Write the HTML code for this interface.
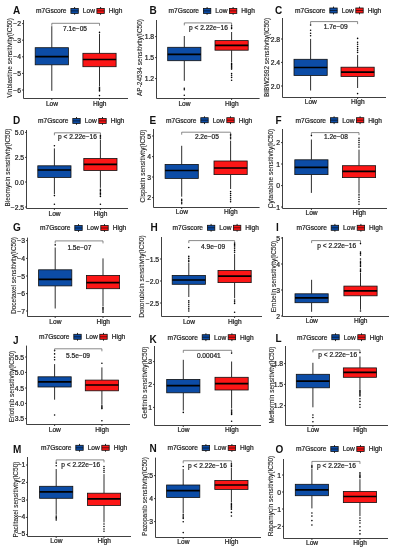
<!DOCTYPE html>
<html><head><meta charset="utf-8"><title>Drug sensitivity boxplots</title><style>
html,body{margin:0;padding:0;background:#fff;}
svg{display:block;}
text{font-family:"Liberation Sans",Arial,sans-serif;fill:#000;}
.lt{font-size:10px;font-weight:bold;fill:#111;}
.lg{font-size:6.6px;fill:#222;stroke:#222;stroke-width:0.22;}
.tk{font-size:6.8px;text-anchor:end;fill:#222;stroke:#222;stroke-width:0.22;}
.yl{font-size:6.5px;text-anchor:middle;fill:#222;stroke:#222;stroke-width:0.1;}
.xl{font-size:6.6px;text-anchor:middle;fill:#222;stroke:#222;stroke-width:0.22;}
.pv{font-size:6.6px;text-anchor:middle;fill:#222;stroke:#222;stroke-width:0.22;}
.ax{stroke:#2a2a2a;stroke-width:0.9;fill:none;}
.wk{stroke:#161616;stroke-width:0.9;}
.bx{stroke:#111;stroke-width:0.8;}
.md{stroke:#000;stroke-width:1.7;}
.mdk{stroke:#000;stroke-width:0.6;}
.pt{fill:#000;}
.br{stroke:#4a4a4a;stroke-width:0.65;fill:none;}
</style></head>
<body><svg width="393" height="550" viewBox="0 0 393 550">
<rect width="393" height="550" fill="#fff"/>
<g transform="translate(0,0)">
<text x="13" y="14" class="lt">A</text>
<text x="36.1" y="13.3" class="lg">m7Gscore</text>
<line x1="74.6" y1="7" x2="74.6" y2="14.8" class="wk"/>
<rect x="70.9" y="8.4" width="7.4" height="5" fill="#0C4CA6" class="bx"/>
<line x1="70.9" y1="10.9" x2="78.3" y2="10.9" class="mdk"/>
<text x="82.8" y="13.3" class="lg">Low</text>
<line x1="100.6" y1="7" x2="100.6" y2="14.8" class="wk"/>
<rect x="96.9" y="8.4" width="7.4" height="5" fill="#FC1616" class="bx"/>
<line x1="96.9" y1="10.9" x2="104.3" y2="10.9" class="mdk"/>
<text x="108.8" y="13.3" class="lg">High</text>
<path d="M23.5 20V98.5H128" class="ax"/>
<line x1="22" y1="23.6" x2="23.5" y2="23.6" class="ax"/>
<text x="21.1" y="26.2" class="tk">−2</text>
<line x1="22" y1="40.2" x2="23.5" y2="40.2" class="ax"/>
<text x="21.1" y="42.8" class="tk">−3</text>
<line x1="22" y1="56.8" x2="23.5" y2="56.8" class="ax"/>
<text x="21.1" y="59.4" class="tk">−4</text>
<line x1="22" y1="73.4" x2="23.5" y2="73.4" class="ax"/>
<text x="21.1" y="76" class="tk">−5</text>
<line x1="22" y1="90" x2="23.5" y2="90" class="ax"/>
<text x="21.1" y="92.6" class="tk">−6</text>
<text transform="translate(11.7,58) rotate(-90)" class="yl">Vinblastine sensitivity(IC50)</text>
<line x1="51.8" y1="26.2" x2="51.8" y2="47.7" class="wk"/>
<line x1="51.8" y1="64.8" x2="51.8" y2="90.8" class="wk"/>
<rect x="35.2" y="47.7" width="33.2" height="17.1" fill="#0C4CA6" class="bx"/>
<line x1="35.2" y1="56.7" x2="68.4" y2="56.7" class="md"/>
<line x1="51.8" y1="98.5" x2="51.8" y2="100" class="ax"/>
<line x1="99.5" y1="33.8" x2="99.5" y2="53.3" class="wk"/>
<line x1="99.5" y1="66.7" x2="99.5" y2="86.2" class="wk"/>
<rect x="82.9" y="53.3" width="33.2" height="13.4" fill="#FC1616" class="bx"/>
<line x1="82.9" y1="59.5" x2="116.1" y2="59.5" class="md"/>
<circle cx="99.5" cy="32.4" r="0.78" class="pt"/>
<circle cx="99.5" cy="87.2" r="0.78" class="pt"/>
<circle cx="99.5" cy="88.2" r="0.78" class="pt"/>
<circle cx="99.5" cy="89.2" r="0.78" class="pt"/>
<circle cx="99.5" cy="90.2" r="0.78" class="pt"/>
<circle cx="99.5" cy="91" r="0.78" class="pt"/>
<circle cx="99.5" cy="95.6" r="0.78" class="pt"/>
<line x1="99.5" y1="98.5" x2="99.5" y2="100" class="ax"/>
<text x="52" y="106" class="xl">Low</text>
<text x="99.7" y="106" class="xl">High</text>
<path d="M51.8 25.8V23.3H99.5V25.8" class="br"/>
<text x="75" y="30.8" class="pv">7.1e−05</text>
</g>
<g transform="translate(131,0)">
<text x="18.4" y="14" class="lt">B</text>
<text x="37.6" y="13.3" class="lg">m7Gscore</text>
<line x1="76.1" y1="7" x2="76.1" y2="14.8" class="wk"/>
<rect x="72.4" y="8.4" width="7.4" height="5" fill="#0C4CA6" class="bx"/>
<line x1="72.4" y1="10.9" x2="79.8" y2="10.9" class="mdk"/>
<text x="84.3" y="13.3" class="lg">Low</text>
<line x1="102.1" y1="7" x2="102.1" y2="14.8" class="wk"/>
<rect x="98.4" y="8.4" width="7.4" height="5" fill="#FC1616" class="bx"/>
<line x1="98.4" y1="10.9" x2="105.8" y2="10.9" class="mdk"/>
<text x="110.3" y="13.3" class="lg">High</text>
<path d="M25.5 20V98.5H128.6" class="ax"/>
<line x1="24" y1="36.6" x2="25.5" y2="36.6" class="ax"/>
<text x="23.1" y="39.2" class="tk">1.8</text>
<line x1="24" y1="57.6" x2="25.5" y2="57.6" class="ax"/>
<text x="23.1" y="60.2" class="tk">1.5</text>
<line x1="24" y1="78.6" x2="25.5" y2="78.6" class="ax"/>
<text x="23.1" y="81.2" class="tk">1.2</text>
<text transform="translate(11.4,57.5) rotate(-90)" class="yl">AP-24534 sensitivity(IC50)</text>
<line x1="53.3" y1="36" x2="53.3" y2="47.3" class="wk"/>
<line x1="53.3" y1="60.7" x2="53.3" y2="80.8" class="wk"/>
<rect x="36.7" y="47.3" width="33.2" height="13.4" fill="#0C4CA6" class="bx"/>
<line x1="36.7" y1="54.3" x2="69.9" y2="54.3" class="md"/>
<circle cx="53.3" cy="88.3" r="0.78" class="pt"/>
<circle cx="53.3" cy="89.8" r="0.78" class="pt"/>
<circle cx="53.3" cy="95.2" r="0.78" class="pt"/>
<line x1="53.3" y1="98.5" x2="53.3" y2="100" class="ax"/>
<line x1="100.6" y1="32" x2="100.6" y2="40.6" class="wk"/>
<line x1="100.6" y1="50.2" x2="100.6" y2="62.5" class="wk"/>
<rect x="84" y="40.6" width="33.2" height="9.6" fill="#FC1616" class="bx"/>
<line x1="84" y1="45.4" x2="117.2" y2="45.4" class="md"/>
<circle cx="100.6" cy="25.8" r="0.78" class="pt"/>
<circle cx="100.6" cy="27.2" r="0.78" class="pt"/>
<circle cx="100.6" cy="28.6" r="0.78" class="pt"/>
<circle cx="100.6" cy="63.5" r="0.78" class="pt"/>
<circle cx="100.6" cy="64.6" r="0.78" class="pt"/>
<circle cx="100.6" cy="65.7" r="0.78" class="pt"/>
<circle cx="100.6" cy="66.8" r="0.78" class="pt"/>
<circle cx="100.6" cy="67.9" r="0.78" class="pt"/>
<circle cx="100.6" cy="69.1" r="0.78" class="pt"/>
<circle cx="100.6" cy="73.6" r="0.78" class="pt"/>
<circle cx="100.6" cy="75.2" r="0.78" class="pt"/>
<circle cx="100.6" cy="77.4" r="0.78" class="pt"/>
<circle cx="100.6" cy="80.3" r="0.78" class="pt"/>
<line x1="100.6" y1="98.5" x2="100.6" y2="100" class="ax"/>
<text x="53.5" y="106" class="xl">Low</text>
<text x="100.8" y="106" class="xl">High</text>
<path d="M53.3 25.4V22.9H100.6V25.4" class="br"/>
<text x="77.45" y="29.8" class="pv">p &lt; 2.22e−16</text>
</g>
<g transform="translate(262,0)">
<text x="13" y="14.4" class="lt">C</text>
<text x="33" y="12.9" class="lg">m7Gscore</text>
<line x1="71.5" y1="6.6" x2="71.5" y2="14.4" class="wk"/>
<rect x="67.8" y="8" width="7.4" height="5" fill="#0C4CA6" class="bx"/>
<line x1="67.8" y1="10.5" x2="75.2" y2="10.5" class="mdk"/>
<text x="79.7" y="12.9" class="lg">Low</text>
<line x1="97.5" y1="6.6" x2="97.5" y2="14.4" class="wk"/>
<rect x="93.8" y="8" width="7.4" height="5" fill="#FC1616" class="bx"/>
<line x1="93.8" y1="10.5" x2="101.2" y2="10.5" class="mdk"/>
<text x="105.7" y="12.9" class="lg">High</text>
<path d="M20.5 18V97.5H124" class="ax"/>
<line x1="19" y1="39" x2="20.5" y2="39" class="ax"/>
<text x="18.1" y="41.6" class="tk">2.8</text>
<line x1="19" y1="62.4" x2="20.5" y2="62.4" class="ax"/>
<text x="18.1" y="65" class="tk">2.4</text>
<line x1="19" y1="86" x2="20.5" y2="86" class="ax"/>
<text x="18.1" y="88.6" class="tk">2.0</text>
<text transform="translate(7,57.5) rotate(-90)" class="yl">BIBW2992 sensitivity(IC50)</text>
<line x1="48.6" y1="38.9" x2="48.6" y2="59.3" class="wk"/>
<line x1="48.6" y1="75.5" x2="48.6" y2="90.5" class="wk"/>
<rect x="32" y="59.3" width="33.2" height="16.2" fill="#0C4CA6" class="bx"/>
<line x1="32" y1="67.5" x2="65.2" y2="67.5" class="md"/>
<circle cx="48.6" cy="25" r="0.78" class="pt"/>
<circle cx="48.6" cy="30.2" r="0.78" class="pt"/>
<circle cx="48.6" cy="33.3" r="0.78" class="pt"/>
<circle cx="48.6" cy="35.8" r="0.78" class="pt"/>
<line x1="48.6" y1="97.5" x2="48.6" y2="99" class="ax"/>
<line x1="95.6" y1="54.9" x2="95.6" y2="67.2" class="wk"/>
<line x1="95.6" y1="76.5" x2="95.6" y2="88" class="wk"/>
<rect x="79" y="67.2" width="33.2" height="9.3" fill="#FC1616" class="bx"/>
<line x1="79" y1="72.2" x2="112.2" y2="72.2" class="md"/>
<circle cx="95.6" cy="38.4" r="0.78" class="pt"/>
<circle cx="95.6" cy="42.2" r="0.78" class="pt"/>
<circle cx="95.6" cy="44.2" r="0.78" class="pt"/>
<circle cx="95.6" cy="46.5" r="0.78" class="pt"/>
<circle cx="95.6" cy="48.5" r="0.78" class="pt"/>
<circle cx="95.6" cy="50.3" r="0.78" class="pt"/>
<circle cx="95.6" cy="52.4" r="0.78" class="pt"/>
<circle cx="95.6" cy="93.6" r="0.78" class="pt"/>
<line x1="95.6" y1="97.5" x2="95.6" y2="99" class="ax"/>
<text x="48.8" y="104.4" class="xl">Low</text>
<text x="95.8" y="104.4" class="xl">High</text>
<path d="M48.6 24.1V21.6H95.6V24.1" class="br"/>
<text x="73.7" y="28.7" class="pv">1.7e−09</text>
</g>
<g transform="translate(0,110)">
<text x="13" y="14" class="lt">D</text>
<text x="38" y="13.3" class="lg">m7Gscore</text>
<line x1="76.5" y1="7" x2="76.5" y2="14.8" class="wk"/>
<rect x="72.8" y="8.4" width="7.4" height="5" fill="#0C4CA6" class="bx"/>
<line x1="72.8" y1="10.9" x2="80.2" y2="10.9" class="mdk"/>
<text x="84.7" y="13.3" class="lg">Low</text>
<line x1="102.5" y1="7" x2="102.5" y2="14.8" class="wk"/>
<rect x="98.8" y="8.4" width="7.4" height="5" fill="#FC1616" class="bx"/>
<line x1="98.8" y1="10.9" x2="106.2" y2="10.9" class="mdk"/>
<text x="110.7" y="13.3" class="lg">High</text>
<path d="M26.5 20V98.5H128" class="ax"/>
<line x1="25" y1="22.4" x2="26.5" y2="22.4" class="ax"/>
<text x="24.1" y="25" class="tk">5.0</text>
<line x1="25" y1="47.4" x2="26.5" y2="47.4" class="ax"/>
<text x="24.1" y="50" class="tk">2.5</text>
<line x1="25" y1="72" x2="26.5" y2="72" class="ax"/>
<text x="24.1" y="74.6" class="tk">0.0</text>
<line x1="25" y1="97" x2="26.5" y2="97" class="ax"/>
<text x="24.1" y="99.6" class="tk">−2.5</text>
<text transform="translate(10.1,57.5) rotate(-90)" class="yl">Bleomycin sensitivity(IC50)</text>
<line x1="54.4" y1="38.4" x2="54.4" y2="55.8" class="wk"/>
<line x1="54.4" y1="67.5" x2="54.4" y2="84.2" class="wk"/>
<rect x="37.8" y="55.8" width="33.2" height="11.7" fill="#0C4CA6" class="bx"/>
<line x1="37.8" y1="60" x2="71" y2="60" class="md"/>
<circle cx="54.4" cy="35.8" r="0.78" class="pt"/>
<circle cx="54.4" cy="85.6" r="0.78" class="pt"/>
<circle cx="54.4" cy="94.3" r="0.78" class="pt"/>
<line x1="54.4" y1="98.5" x2="54.4" y2="100" class="ax"/>
<line x1="100.4" y1="29.5" x2="100.4" y2="48.5" class="wk"/>
<line x1="100.4" y1="60.5" x2="100.4" y2="77.8" class="wk"/>
<rect x="83.8" y="48.5" width="33.2" height="12" fill="#FC1616" class="bx"/>
<line x1="83.8" y1="54.4" x2="117" y2="54.4" class="md"/>
<circle cx="100.4" cy="25.6" r="0.78" class="pt"/>
<circle cx="100.4" cy="26.9" r="0.78" class="pt"/>
<circle cx="100.4" cy="28.2" r="0.78" class="pt"/>
<circle cx="100.4" cy="79.2" r="0.78" class="pt"/>
<circle cx="100.4" cy="80.6" r="0.78" class="pt"/>
<circle cx="100.4" cy="82" r="0.78" class="pt"/>
<circle cx="100.4" cy="83.4" r="0.78" class="pt"/>
<circle cx="100.4" cy="84.8" r="0.78" class="pt"/>
<circle cx="100.4" cy="86.4" r="0.78" class="pt"/>
<circle cx="100.4" cy="94.3" r="0.78" class="pt"/>
<line x1="100.4" y1="98.5" x2="100.4" y2="100" class="ax"/>
<text x="54.6" y="105.5" class="xl">Low</text>
<text x="100.6" y="105.5" class="xl">High</text>
<path d="M54.4 25.3V22.8H100.4V25.3" class="br"/>
<text x="77.5" y="29" class="pv">p &lt; 2.22e−16</text>
</g>
<g transform="translate(131,110)">
<text x="18.4" y="13.6" class="lt">E</text>
<text x="35" y="12.6" class="lg">m7Gscore</text>
<line x1="73.5" y1="6.3" x2="73.5" y2="14.1" class="wk"/>
<rect x="69.8" y="7.7" width="7.4" height="5" fill="#0C4CA6" class="bx"/>
<line x1="69.8" y1="10.2" x2="77.2" y2="10.2" class="mdk"/>
<text x="81.7" y="12.6" class="lg">Low</text>
<line x1="99.5" y1="6.3" x2="99.5" y2="14.1" class="wk"/>
<rect x="95.8" y="7.7" width="7.4" height="5" fill="#FC1616" class="bx"/>
<line x1="95.8" y1="10.2" x2="103.2" y2="10.2" class="mdk"/>
<text x="107.7" y="12.6" class="lg">High</text>
<path d="M22.5 19V97.5H128.6" class="ax"/>
<line x1="21" y1="26" x2="22.5" y2="26" class="ax"/>
<text x="20.1" y="28.6" class="tk">5</text>
<line x1="21" y1="46.6" x2="22.5" y2="46.6" class="ax"/>
<text x="20.1" y="49.2" class="tk">4</text>
<line x1="21" y1="67" x2="22.5" y2="67" class="ax"/>
<text x="20.1" y="69.6" class="tk">3</text>
<line x1="21" y1="87.6" x2="22.5" y2="87.6" class="ax"/>
<text x="20.1" y="90.2" class="tk">2</text>
<text transform="translate(13.7,56) rotate(-90)" class="yl">Cisplatin sensitivity(IC50)</text>
<line x1="50.7" y1="35.8" x2="50.7" y2="54.4" class="wk"/>
<line x1="50.7" y1="68.4" x2="50.7" y2="86.7" class="wk"/>
<rect x="34.1" y="54.4" width="33.2" height="14" fill="#0C4CA6" class="bx"/>
<line x1="34.1" y1="60.5" x2="67.3" y2="60.5" class="md"/>
<circle cx="50.7" cy="89.2" r="0.78" class="pt"/>
<circle cx="50.7" cy="90.6" r="0.78" class="pt"/>
<circle cx="50.7" cy="92.2" r="0.78" class="pt"/>
<circle cx="50.7" cy="93.8" r="0.78" class="pt"/>
<line x1="50.7" y1="97.5" x2="50.7" y2="99" class="ax"/>
<line x1="99.6" y1="30.7" x2="99.6" y2="51" class="wk"/>
<line x1="99.6" y1="64.6" x2="99.6" y2="79" class="wk"/>
<rect x="83" y="51" width="33.2" height="13.6" fill="#FC1616" class="bx"/>
<line x1="83" y1="58" x2="116.2" y2="58" class="md"/>
<circle cx="99.6" cy="24.4" r="0.78" class="pt"/>
<circle cx="99.6" cy="25.8" r="0.78" class="pt"/>
<circle cx="99.6" cy="27.2" r="0.78" class="pt"/>
<circle cx="99.6" cy="28.8" r="0.78" class="pt"/>
<circle cx="99.6" cy="81.6" r="0.78" class="pt"/>
<circle cx="99.6" cy="83.6" r="0.78" class="pt"/>
<circle cx="99.6" cy="85.6" r="0.78" class="pt"/>
<circle cx="99.6" cy="87.8" r="0.78" class="pt"/>
<circle cx="99.6" cy="89.8" r="0.78" class="pt"/>
<circle cx="99.6" cy="91.8" r="0.78" class="pt"/>
<line x1="99.6" y1="97.5" x2="99.6" y2="99" class="ax"/>
<text x="50.9" y="104.4" class="xl">Low</text>
<text x="99.8" y="104.4" class="xl">High</text>
<path d="M50.7 24.7V22.2H99.6V24.7" class="br"/>
<text x="75.9" y="28.7" class="pv">2.2e−05</text>
</g>
<g transform="translate(262,110)">
<text x="13.6" y="13.6" class="lt">F</text>
<text x="33.6" y="12.6" class="lg">m7Gscore</text>
<line x1="72.1" y1="6.3" x2="72.1" y2="14.1" class="wk"/>
<rect x="68.4" y="7.7" width="7.4" height="5" fill="#0C4CA6" class="bx"/>
<line x1="68.4" y1="10.2" x2="75.8" y2="10.2" class="mdk"/>
<text x="80.3" y="12.6" class="lg">Low</text>
<line x1="98.1" y1="6.3" x2="98.1" y2="14.1" class="wk"/>
<rect x="94.4" y="7.7" width="7.4" height="5" fill="#FC1616" class="bx"/>
<line x1="94.4" y1="10.2" x2="101.8" y2="10.2" class="mdk"/>
<text x="106.3" y="12.6" class="lg">High</text>
<path d="M20.5 19V98.5H125" class="ax"/>
<line x1="19" y1="32.6" x2="20.5" y2="32.6" class="ax"/>
<text x="18.1" y="35.2" class="tk">2</text>
<line x1="19" y1="54" x2="20.5" y2="54" class="ax"/>
<text x="18.1" y="56.6" class="tk">1</text>
<line x1="19" y1="75.6" x2="20.5" y2="75.6" class="ax"/>
<text x="18.1" y="78.2" class="tk">0</text>
<line x1="19" y1="97" x2="20.5" y2="97" class="ax"/>
<text x="18.1" y="99.6" class="tk">−1</text>
<text transform="translate(10.6,58.5) rotate(-90)" class="yl">Cytarabine sensitivity(IC50)</text>
<line x1="49.4" y1="29.5" x2="49.4" y2="49.8" class="wk"/>
<line x1="49.4" y1="64.6" x2="49.4" y2="82.9" class="wk"/>
<rect x="32.8" y="49.8" width="33.2" height="14.8" fill="#0C4CA6" class="bx"/>
<line x1="32.8" y1="57.4" x2="66" y2="57.4" class="md"/>
<circle cx="49.4" cy="25.6" r="0.78" class="pt"/>
<line x1="49.4" y1="98.5" x2="49.4" y2="100" class="ax"/>
<line x1="97" y1="39.6" x2="97" y2="55.7" class="wk"/>
<line x1="97" y1="67.6" x2="97" y2="83.6" class="wk"/>
<rect x="80.4" y="55.7" width="33.2" height="11.9" fill="#FC1616" class="bx"/>
<line x1="80.4" y1="61.3" x2="113.6" y2="61.3" class="md"/>
<circle cx="97" cy="28.2" r="0.78" class="pt"/>
<circle cx="97" cy="30.4" r="0.78" class="pt"/>
<circle cx="97" cy="32.6" r="0.78" class="pt"/>
<circle cx="97" cy="34.8" r="0.78" class="pt"/>
<circle cx="97" cy="37.1" r="0.78" class="pt"/>
<circle cx="97" cy="84.9" r="0.78" class="pt"/>
<circle cx="97" cy="87.2" r="0.78" class="pt"/>
<circle cx="97" cy="89.5" r="0.78" class="pt"/>
<circle cx="97" cy="91.8" r="0.78" class="pt"/>
<circle cx="97" cy="94.3" r="0.78" class="pt"/>
<line x1="97" y1="98.5" x2="97" y2="100" class="ax"/>
<text x="49.6" y="105" class="xl">Low</text>
<text x="97.2" y="105" class="xl">High</text>
<path d="M49.4 25.1V22.6H97V25.1" class="br"/>
<text x="73.95" y="29.3" class="pv">1.2e−08</text>
</g>
<g transform="translate(0,220)">
<text x="13" y="11" class="lt">G</text>
<text x="40" y="10.4" class="lg">m7Gscore</text>
<line x1="78.5" y1="4.1" x2="78.5" y2="11.9" class="wk"/>
<rect x="74.8" y="5.5" width="7.4" height="5" fill="#0C4CA6" class="bx"/>
<line x1="74.8" y1="8" x2="82.2" y2="8" class="mdk"/>
<text x="86.7" y="10.4" class="lg">Low</text>
<line x1="104.5" y1="4.1" x2="104.5" y2="11.9" class="wk"/>
<rect x="100.8" y="5.5" width="7.4" height="5" fill="#FC1616" class="bx"/>
<line x1="100.8" y1="8" x2="108.2" y2="8" class="mdk"/>
<text x="112.7" y="10.4" class="lg">High</text>
<path d="M27.5 17.6V96.5H131" class="ax"/>
<line x1="26" y1="20.6" x2="27.5" y2="20.6" class="ax"/>
<text x="25.1" y="23.2" class="tk">−3</text>
<line x1="26" y1="38.4" x2="27.5" y2="38.4" class="ax"/>
<text x="25.1" y="41" class="tk">−4</text>
<line x1="26" y1="56" x2="27.5" y2="56" class="ax"/>
<text x="25.1" y="58.6" class="tk">−5</text>
<line x1="26" y1="73.6" x2="27.5" y2="73.6" class="ax"/>
<text x="25.1" y="76.2" class="tk">−6</text>
<line x1="26" y1="91" x2="27.5" y2="91" class="ax"/>
<text x="25.1" y="93.6" class="tk">−7</text>
<text transform="translate(16.1,55.5) rotate(-90)" class="yl">Docetaxel sensitivity(IC50)</text>
<line x1="55.2" y1="27.5" x2="55.2" y2="49.8" class="wk"/>
<line x1="55.2" y1="65.9" x2="55.2" y2="88.5" class="wk"/>
<rect x="38.6" y="49.8" width="33.2" height="16.1" fill="#0C4CA6" class="bx"/>
<line x1="38.6" y1="59.3" x2="71.8" y2="59.3" class="md"/>
<circle cx="55.2" cy="24.9" r="0.78" class="pt"/>
<line x1="55.2" y1="96.5" x2="55.2" y2="98" class="ax"/>
<line x1="103" y1="38.4" x2="103" y2="55.4" class="wk"/>
<line x1="103" y1="68.7" x2="103" y2="86" class="wk"/>
<rect x="86.4" y="55.4" width="33.2" height="13.3" fill="#FC1616" class="bx"/>
<line x1="86.4" y1="62.6" x2="119.6" y2="62.6" class="md"/>
<circle cx="103" cy="87.4" r="0.78" class="pt"/>
<circle cx="103" cy="88.6" r="0.78" class="pt"/>
<circle cx="103" cy="89.8" r="0.78" class="pt"/>
<circle cx="103" cy="91" r="0.78" class="pt"/>
<circle cx="103" cy="92.3" r="0.78" class="pt"/>
<line x1="103" y1="96.5" x2="103" y2="98" class="ax"/>
<text x="55.4" y="103.6" class="xl">Low</text>
<text x="103.2" y="103.6" class="xl">High</text>
<path d="M55.2 23.4V20.9H103V23.4" class="br"/>
<text x="79.4" y="30" class="pv">1.5e−07</text>
</g>
<g transform="translate(131,220)">
<text x="19.5" y="11" class="lt">H</text>
<text x="41.6" y="10.2" class="lg">m7Gscore</text>
<line x1="80.1" y1="3.9" x2="80.1" y2="11.7" class="wk"/>
<rect x="76.4" y="5.3" width="7.4" height="5" fill="#0C4CA6" class="bx"/>
<line x1="76.4" y1="7.8" x2="83.8" y2="7.8" class="mdk"/>
<text x="88.3" y="10.2" class="lg">Low</text>
<line x1="106.1" y1="3.9" x2="106.1" y2="11.7" class="wk"/>
<rect x="102.4" y="5.3" width="7.4" height="5" fill="#FC1616" class="bx"/>
<line x1="102.4" y1="7.8" x2="109.8" y2="7.8" class="mdk"/>
<text x="114.3" y="10.2" class="lg">High</text>
<path d="M30.5 17V96.5H131" class="ax"/>
<line x1="29" y1="39" x2="30.5" y2="39" class="ax"/>
<text x="28.1" y="41.6" class="tk">−1.5</text>
<line x1="29" y1="61" x2="30.5" y2="61" class="ax"/>
<text x="28.1" y="63.6" class="tk">−2.0</text>
<line x1="29" y1="83" x2="30.5" y2="83" class="ax"/>
<text x="28.1" y="85.6" class="tk">−2.5</text>
<text transform="translate(12.7,56.5) rotate(-90)" class="yl">Doxorubicin sensitivity(IC50)</text>
<line x1="57.8" y1="42.7" x2="57.8" y2="55.4" class="wk"/>
<line x1="57.8" y1="64.3" x2="57.8" y2="77" class="wk"/>
<rect x="41.2" y="55.4" width="33.2" height="8.9" fill="#0C4CA6" class="bx"/>
<line x1="41.2" y1="60" x2="74.4" y2="60" class="md"/>
<circle cx="57.8" cy="27.5" r="0.78" class="pt"/>
<circle cx="57.8" cy="36.4" r="0.78" class="pt"/>
<circle cx="57.8" cy="38.4" r="0.78" class="pt"/>
<circle cx="57.8" cy="40.2" r="0.78" class="pt"/>
<circle cx="57.8" cy="41.5" r="0.78" class="pt"/>
<circle cx="57.8" cy="80.9" r="0.78" class="pt"/>
<circle cx="57.8" cy="82.7" r="0.78" class="pt"/>
<circle cx="57.8" cy="84.7" r="0.78" class="pt"/>
<circle cx="57.8" cy="86.7" r="0.78" class="pt"/>
<circle cx="57.8" cy="88.9" r="0.78" class="pt"/>
<circle cx="57.8" cy="91" r="0.78" class="pt"/>
<line x1="57.8" y1="96.5" x2="57.8" y2="98" class="ax"/>
<line x1="103.6" y1="33.8" x2="103.6" y2="50.4" class="wk"/>
<line x1="103.6" y1="62.6" x2="103.6" y2="78.3" class="wk"/>
<rect x="87" y="50.4" width="33.2" height="12.2" fill="#FC1616" class="bx"/>
<line x1="87" y1="56.2" x2="120.2" y2="56.2" class="md"/>
<circle cx="103.6" cy="23.1" r="0.78" class="pt"/>
<circle cx="103.6" cy="24.4" r="0.78" class="pt"/>
<circle cx="103.6" cy="25.7" r="0.78" class="pt"/>
<circle cx="103.6" cy="27" r="0.78" class="pt"/>
<circle cx="103.6" cy="28.7" r="0.78" class="pt"/>
<circle cx="103.6" cy="30.5" r="0.78" class="pt"/>
<circle cx="103.6" cy="32.3" r="0.78" class="pt"/>
<circle cx="103.6" cy="80.1" r="0.78" class="pt"/>
<circle cx="103.6" cy="81.7" r="0.78" class="pt"/>
<circle cx="103.6" cy="83.4" r="0.78" class="pt"/>
<circle cx="103.6" cy="92.3" r="0.78" class="pt"/>
<line x1="103.6" y1="96.5" x2="103.6" y2="98" class="ax"/>
<text x="58" y="103.6" class="xl">Low</text>
<text x="103.8" y="103.6" class="xl">High</text>
<path d="M57.8 23.1V20.6H103.6V23.1" class="br"/>
<text x="82.05" y="28.8" class="pv">4.9e−09</text>
</g>
<g transform="translate(262,220)">
<text x="14" y="10.9" class="lt">I</text>
<text x="34.4" y="10.2" class="lg">m7Gscore</text>
<line x1="72.9" y1="3.9" x2="72.9" y2="11.7" class="wk"/>
<rect x="69.2" y="5.3" width="7.4" height="5" fill="#0C4CA6" class="bx"/>
<line x1="69.2" y1="7.8" x2="76.6" y2="7.8" class="mdk"/>
<text x="81.1" y="10.2" class="lg">Low</text>
<line x1="98.9" y1="3.9" x2="98.9" y2="11.7" class="wk"/>
<rect x="95.2" y="5.3" width="7.4" height="5" fill="#FC1616" class="bx"/>
<line x1="95.2" y1="7.8" x2="102.6" y2="7.8" class="mdk"/>
<text x="107.1" y="10.2" class="lg">High</text>
<path d="M20.5 17V96.5H127" class="ax"/>
<line x1="19" y1="18" x2="20.5" y2="18" class="ax"/>
<text x="18.1" y="20.6" class="tk">5</text>
<line x1="19" y1="44" x2="20.5" y2="44" class="ax"/>
<text x="18.1" y="46.6" class="tk">4</text>
<line x1="19" y1="70" x2="20.5" y2="70" class="ax"/>
<text x="18.1" y="72.6" class="tk">3</text>
<line x1="19" y1="96" x2="20.5" y2="96" class="ax"/>
<text x="18.1" y="98.6" class="tk">2</text>
<text transform="translate(13.6,56.5) rotate(-90)" class="yl">Embelin sensitivity(IC50)</text>
<line x1="49.6" y1="59.8" x2="49.6" y2="73.8" class="wk"/>
<line x1="49.6" y1="82.7" x2="49.6" y2="91.8" class="wk"/>
<rect x="33" y="73.8" width="33.2" height="8.9" fill="#0C4CA6" class="bx"/>
<line x1="33" y1="77.9" x2="66.2" y2="77.9" class="md"/>
<line x1="49.6" y1="96.5" x2="49.6" y2="98" class="ax"/>
<line x1="98.5" y1="52.6" x2="98.5" y2="66.1" class="wk"/>
<line x1="98.5" y1="75.8" x2="98.5" y2="89.8" class="wk"/>
<rect x="81.9" y="66.1" width="33.2" height="9.7" fill="#FC1616" class="bx"/>
<line x1="81.9" y1="70.8" x2="115.1" y2="70.8" class="md"/>
<circle cx="98.5" cy="23.6" r="0.78" class="pt"/>
<circle cx="98.5" cy="32.1" r="0.78" class="pt"/>
<circle cx="98.5" cy="33.4" r="0.78" class="pt"/>
<circle cx="98.5" cy="35.1" r="0.78" class="pt"/>
<circle cx="98.5" cy="39" r="0.78" class="pt"/>
<circle cx="98.5" cy="41.3" r="0.78" class="pt"/>
<circle cx="98.5" cy="42.6" r="0.78" class="pt"/>
<circle cx="98.5" cy="43.9" r="0.78" class="pt"/>
<circle cx="98.5" cy="45.2" r="0.78" class="pt"/>
<circle cx="98.5" cy="46.5" r="0.78" class="pt"/>
<circle cx="98.5" cy="49.1" r="0.78" class="pt"/>
<circle cx="98.5" cy="50.2" r="0.78" class="pt"/>
<circle cx="98.5" cy="51.4" r="0.78" class="pt"/>
<circle cx="98.5" cy="91" r="0.78" class="pt"/>
<line x1="98.5" y1="96.5" x2="98.5" y2="98" class="ax"/>
<text x="49.8" y="103.4" class="xl">Low</text>
<text x="98.7" y="103.4" class="xl">High</text>
<path d="M49.6 23.1V20.6H98.5V23.1" class="br"/>
<text x="74.75" y="27.8" class="pv">p &lt; 2.22e−16</text>
</g>
<g transform="translate(0,330)">
<text x="13" y="13.6" class="lt">J</text>
<text x="39" y="9.2" class="lg">m7Gscore</text>
<line x1="77.5" y1="2.9" x2="77.5" y2="10.7" class="wk"/>
<rect x="73.8" y="4.3" width="7.4" height="5" fill="#0C4CA6" class="bx"/>
<line x1="73.8" y1="6.8" x2="81.2" y2="6.8" class="mdk"/>
<text x="85.7" y="9.2" class="lg">Low</text>
<line x1="103.5" y1="2.9" x2="103.5" y2="10.7" class="wk"/>
<rect x="99.8" y="4.3" width="7.4" height="5" fill="#FC1616" class="bx"/>
<line x1="99.8" y1="6.8" x2="107.2" y2="6.8" class="mdk"/>
<text x="111.7" y="9.2" class="lg">High</text>
<path d="M26.5 15.6V94.5H130" class="ax"/>
<line x1="25" y1="27" x2="26.5" y2="27" class="ax"/>
<text x="24.1" y="29.6" class="tk">5.5</text>
<line x1="25" y1="42.4" x2="26.5" y2="42.4" class="ax"/>
<text x="24.1" y="45" class="tk">5.0</text>
<line x1="25" y1="58" x2="26.5" y2="58" class="ax"/>
<text x="24.1" y="60.6" class="tk">4.5</text>
<line x1="25" y1="73.4" x2="26.5" y2="73.4" class="ax"/>
<text x="24.1" y="76" class="tk">4.0</text>
<line x1="25" y1="88.6" x2="26.5" y2="88.6" class="ax"/>
<text x="24.1" y="91.2" class="tk">3.5</text>
<text transform="translate(13.9,56.5) rotate(-90)" class="yl">Erlotinib sensitivity(IC50)</text>
<line x1="54.6" y1="34.1" x2="54.6" y2="46.8" class="wk"/>
<line x1="54.6" y1="57" x2="54.6" y2="69.7" class="wk"/>
<rect x="38" y="46.8" width="33.2" height="10.2" fill="#0C4CA6" class="bx"/>
<line x1="38" y1="51.9" x2="71.2" y2="51.9" class="md"/>
<circle cx="54.6" cy="20.6" r="0.78" class="pt"/>
<circle cx="54.6" cy="23.9" r="0.78" class="pt"/>
<circle cx="54.6" cy="27.2" r="0.78" class="pt"/>
<circle cx="54.6" cy="29.8" r="0.78" class="pt"/>
<circle cx="54.6" cy="85" r="0.78" class="pt"/>
<line x1="54.6" y1="94.5" x2="54.6" y2="96" class="ax"/>
<line x1="101.9" y1="37.4" x2="101.9" y2="50.1" class="wk"/>
<line x1="101.9" y1="60.8" x2="101.9" y2="74.8" class="wk"/>
<rect x="85.3" y="50.1" width="33.2" height="10.7" fill="#FC1616" class="bx"/>
<line x1="85.3" y1="55" x2="118.5" y2="55" class="md"/>
<circle cx="101.9" cy="33.3" r="0.78" class="pt"/>
<circle cx="101.9" cy="75.8" r="0.78" class="pt"/>
<circle cx="101.9" cy="76.8" r="0.78" class="pt"/>
<circle cx="101.9" cy="77.8" r="0.78" class="pt"/>
<circle cx="101.9" cy="78.6" r="0.78" class="pt"/>
<circle cx="101.9" cy="90.8" r="0.78" class="pt"/>
<line x1="101.9" y1="94.5" x2="101.9" y2="96" class="ax"/>
<text x="54.8" y="101.6" class="xl">Low</text>
<text x="102.1" y="101.6" class="xl">High</text>
<path d="M54.6 21.3V18.8H101.9V21.3" class="br"/>
<text x="78" y="27.8" class="pv">5.5e−09</text>
</g>
<g transform="translate(131,330)">
<text x="18.4" y="13" class="lt">K</text>
<text x="36.4" y="9.6" class="lg">m7Gscore</text>
<line x1="74.9" y1="3.3" x2="74.9" y2="11.1" class="wk"/>
<rect x="71.2" y="4.7" width="7.4" height="5" fill="#0C4CA6" class="bx"/>
<line x1="71.2" y1="7.2" x2="78.6" y2="7.2" class="mdk"/>
<text x="83.1" y="9.6" class="lg">Low</text>
<line x1="100.9" y1="3.3" x2="100.9" y2="11.1" class="wk"/>
<rect x="97.2" y="4.7" width="7.4" height="5" fill="#FC1616" class="bx"/>
<line x1="97.2" y1="7.2" x2="104.6" y2="7.2" class="mdk"/>
<text x="109.1" y="9.6" class="lg">High</text>
<path d="M23.5 16V95.5H130" class="ax"/>
<line x1="22" y1="31.6" x2="23.5" y2="31.6" class="ax"/>
<text x="21.1" y="34.2" class="tk">3</text>
<line x1="22" y1="54.4" x2="23.5" y2="54.4" class="ax"/>
<text x="21.1" y="57" class="tk">2</text>
<line x1="22" y1="77.4" x2="23.5" y2="77.4" class="ax"/>
<text x="21.1" y="80" class="tk">1</text>
<text transform="translate(15.8,52.5) rotate(-90)" class="yl">Gefitinib sensitivity(IC50)</text>
<line x1="52.3" y1="29.8" x2="52.3" y2="49.4" class="wk"/>
<line x1="52.3" y1="62.8" x2="52.3" y2="80.6" class="wk"/>
<rect x="35.7" y="49.4" width="33.2" height="13.4" fill="#0C4CA6" class="bx"/>
<line x1="35.7" y1="55.7" x2="68.9" y2="55.7" class="md"/>
<circle cx="52.3" cy="82.4" r="0.78" class="pt"/>
<line x1="52.3" y1="95.5" x2="52.3" y2="97" class="ax"/>
<line x1="100.6" y1="31.5" x2="100.6" y2="47.3" class="wk"/>
<line x1="100.6" y1="60" x2="100.6" y2="78.6" class="wk"/>
<rect x="84" y="47.3" width="33.2" height="12.7" fill="#FC1616" class="bx"/>
<line x1="84" y1="53.7" x2="117.2" y2="53.7" class="md"/>
<circle cx="100.6" cy="23.1" r="0.78" class="pt"/>
<circle cx="100.6" cy="80" r="0.78" class="pt"/>
<circle cx="100.6" cy="81.1" r="0.78" class="pt"/>
<circle cx="100.6" cy="82.2" r="0.78" class="pt"/>
<circle cx="100.6" cy="83.3" r="0.78" class="pt"/>
<circle cx="100.6" cy="84.4" r="0.78" class="pt"/>
<circle cx="100.6" cy="91.3" r="0.78" class="pt"/>
<line x1="100.6" y1="95.5" x2="100.6" y2="97" class="ax"/>
<text x="52.5" y="102" class="xl">Low</text>
<text x="100.8" y="102" class="xl">High</text>
<path d="M52.3 22.8V20.3H100.6V22.8" class="br"/>
<text x="77.8" y="27.8" class="pv">0.00041</text>
</g>
<g transform="translate(262,330)">
<text x="13.6" y="12.4" class="lt">L</text>
<text x="35" y="9.6" class="lg">m7Gscore</text>
<line x1="73.5" y1="3.3" x2="73.5" y2="11.1" class="wk"/>
<rect x="69.8" y="4.7" width="7.4" height="5" fill="#0C4CA6" class="bx"/>
<line x1="69.8" y1="7.2" x2="77.2" y2="7.2" class="mdk"/>
<text x="81.7" y="9.6" class="lg">Low</text>
<line x1="99.5" y1="3.3" x2="99.5" y2="11.1" class="wk"/>
<rect x="95.8" y="4.7" width="7.4" height="5" fill="#FC1616" class="bx"/>
<line x1="95.8" y1="7.2" x2="103.2" y2="7.2" class="mdk"/>
<text x="107.7" y="9.6" class="lg">High</text>
<path d="M23.5 16V95.5H126" class="ax"/>
<line x1="22" y1="33.6" x2="23.5" y2="33.6" class="ax"/>
<text x="21.1" y="36.2" class="tk">1.8</text>
<line x1="22" y1="54.4" x2="23.5" y2="54.4" class="ax"/>
<text x="21.1" y="57" class="tk">1.5</text>
<line x1="22" y1="75.6" x2="23.5" y2="75.6" class="ax"/>
<text x="21.1" y="78.2" class="tk">1.2</text>
<text transform="translate(11.5,55) rotate(-90)" class="yl">Metformin sensitivity(IC50)</text>
<line x1="50.9" y1="32.8" x2="50.9" y2="44.3" class="wk"/>
<line x1="50.9" y1="57.8" x2="50.9" y2="77.3" class="wk"/>
<rect x="34.3" y="44.3" width="33.2" height="13.5" fill="#0C4CA6" class="bx"/>
<line x1="34.3" y1="51.2" x2="67.5" y2="51.2" class="md"/>
<circle cx="50.9" cy="85" r="0.78" class="pt"/>
<circle cx="50.9" cy="87.5" r="0.78" class="pt"/>
<circle cx="50.9" cy="91.8" r="0.78" class="pt"/>
<line x1="50.9" y1="95.5" x2="50.9" y2="97" class="ax"/>
<line x1="97.95" y1="26.5" x2="97.95" y2="37.9" class="wk"/>
<line x1="97.95" y1="47.3" x2="97.95" y2="59.5" class="wk"/>
<rect x="81.35" y="37.9" width="33.2" height="9.4" fill="#FC1616" class="bx"/>
<line x1="81.35" y1="42.4" x2="114.55" y2="42.4" class="md"/>
<circle cx="97.95" cy="22.6" r="0.78" class="pt"/>
<circle cx="97.95" cy="60.4" r="0.78" class="pt"/>
<circle cx="97.95" cy="61.5" r="0.78" class="pt"/>
<circle cx="97.95" cy="62.6" r="0.78" class="pt"/>
<circle cx="97.95" cy="63.7" r="0.78" class="pt"/>
<circle cx="97.95" cy="64.8" r="0.78" class="pt"/>
<circle cx="97.95" cy="65.9" r="0.78" class="pt"/>
<circle cx="97.95" cy="68.8" r="0.78" class="pt"/>
<circle cx="97.95" cy="71.4" r="0.78" class="pt"/>
<circle cx="97.95" cy="74.6" r="0.78" class="pt"/>
<circle cx="97.95" cy="77.3" r="0.78" class="pt"/>
<line x1="97.95" y1="95.5" x2="97.95" y2="97" class="ax"/>
<text x="51.1" y="102" class="xl">Low</text>
<text x="98.15" y="102" class="xl">High</text>
<path d="M50.9 22.4V19.9H97.95V22.4" class="br"/>
<text x="75.7" y="26.8" class="pv">p &lt; 2.22e−16</text>
</g>
<g transform="translate(0,440)">
<text x="13" y="13" class="lt">M</text>
<text x="41" y="10.2" class="lg">m7Gscore</text>
<line x1="79.5" y1="3.9" x2="79.5" y2="11.7" class="wk"/>
<rect x="75.8" y="5.3" width="7.4" height="5" fill="#0C4CA6" class="bx"/>
<line x1="75.8" y1="7.8" x2="83.2" y2="7.8" class="mdk"/>
<text x="87.7" y="10.2" class="lg">Low</text>
<line x1="105.5" y1="3.9" x2="105.5" y2="11.7" class="wk"/>
<rect x="101.8" y="5.3" width="7.4" height="5" fill="#FC1616" class="bx"/>
<line x1="101.8" y1="7.8" x2="109.2" y2="7.8" class="mdk"/>
<text x="113.7" y="10.2" class="lg">High</text>
<path d="M27.5 17V96.5H131" class="ax"/>
<line x1="26" y1="25" x2="27.5" y2="25" class="ax"/>
<text x="25.4" y="26.8" class="tk">−1</text>
<line x1="26" y1="42.4" x2="27.5" y2="42.4" class="ax"/>
<text x="25.4" y="44.2" class="tk">−2</text>
<line x1="26" y1="60" x2="27.5" y2="60" class="ax"/>
<text x="25.4" y="61.8" class="tk">−3</text>
<line x1="26" y1="77.4" x2="27.5" y2="77.4" class="ax"/>
<text x="25.4" y="79.2" class="tk">−4</text>
<line x1="26" y1="94.6" x2="27.5" y2="94.6" class="ax"/>
<text x="25.4" y="96.4" class="tk">−5</text>
<text transform="translate(17.7,59.5) rotate(-90)" class="yl">Paclitaxel sensitivity(IC50)</text>
<line x1="56.2" y1="29" x2="56.2" y2="46.3" class="wk"/>
<line x1="56.2" y1="58.3" x2="56.2" y2="74.8" class="wk"/>
<rect x="39.6" y="46.3" width="33.2" height="12" fill="#0C4CA6" class="bx"/>
<line x1="39.6" y1="51.9" x2="72.8" y2="51.9" class="md"/>
<circle cx="56.2" cy="23.1" r="0.78" class="pt"/>
<circle cx="56.2" cy="25.7" r="0.78" class="pt"/>
<circle cx="56.2" cy="76.1" r="0.78" class="pt"/>
<circle cx="56.2" cy="77.4" r="0.78" class="pt"/>
<circle cx="56.2" cy="78.7" r="0.78" class="pt"/>
<circle cx="56.2" cy="80" r="0.78" class="pt"/>
<line x1="56.2" y1="96.5" x2="56.2" y2="98" class="ax"/>
<line x1="104" y1="34.1" x2="104" y2="53.2" class="wk"/>
<line x1="104" y1="65.4" x2="104" y2="82.4" class="wk"/>
<rect x="87.4" y="53.2" width="33.2" height="12.2" fill="#FC1616" class="bx"/>
<line x1="87.4" y1="58.8" x2="120.6" y2="58.8" class="md"/>
<circle cx="104" cy="26.5" r="0.78" class="pt"/>
<circle cx="104" cy="28.5" r="0.78" class="pt"/>
<circle cx="104" cy="30.5" r="0.78" class="pt"/>
<circle cx="104" cy="32.3" r="0.78" class="pt"/>
<circle cx="104" cy="84" r="0.78" class="pt"/>
<circle cx="104" cy="86.5" r="0.78" class="pt"/>
<circle cx="104" cy="89" r="0.78" class="pt"/>
<circle cx="104" cy="91.3" r="0.78" class="pt"/>
<line x1="104" y1="96.5" x2="104" y2="98" class="ax"/>
<text x="56.4" y="103" class="xl">Low</text>
<text x="104.2" y="103" class="xl">High</text>
<path d="M56.2 22.4V19.9H104V22.4" class="br"/>
<text x="80.7" y="26.8" class="pv">p &lt; 2.22e−16</text>
</g>
<g transform="translate(131,440)">
<text x="18.4" y="12.4" class="lt">N</text>
<text x="36.4" y="10.4" class="lg">m7Gscore</text>
<line x1="74.9" y1="4.1" x2="74.9" y2="11.9" class="wk"/>
<rect x="71.2" y="5.5" width="7.4" height="5" fill="#0C4CA6" class="bx"/>
<line x1="71.2" y1="8" x2="78.6" y2="8" class="mdk"/>
<text x="83.1" y="10.4" class="lg">Low</text>
<line x1="100.9" y1="4.1" x2="100.9" y2="11.9" class="wk"/>
<rect x="97.2" y="5.5" width="7.4" height="5" fill="#FC1616" class="bx"/>
<line x1="97.2" y1="8" x2="104.6" y2="8" class="mdk"/>
<text x="109.1" y="10.4" class="lg">High</text>
<path d="M24.5 17.6V97.5H130" class="ax"/>
<line x1="23" y1="35.6" x2="24.5" y2="35.6" class="ax"/>
<text x="22.1" y="38.2" class="tk">5</text>
<line x1="23" y1="58.6" x2="24.5" y2="58.6" class="ax"/>
<text x="22.1" y="61.2" class="tk">4</text>
<line x1="23" y1="81.6" x2="24.5" y2="81.6" class="ax"/>
<text x="22.1" y="84.2" class="tk">3</text>
<text transform="translate(16,56.5) rotate(-90)" class="yl">Pazopanib sensitivity(IC50)</text>
<line x1="52.2" y1="29" x2="52.2" y2="45" class="wk"/>
<line x1="52.2" y1="57.5" x2="52.2" y2="73.5" class="wk"/>
<rect x="35.6" y="45" width="33.2" height="12.5" fill="#0C4CA6" class="bx"/>
<line x1="35.6" y1="50.6" x2="68.8" y2="50.6" class="md"/>
<circle cx="52.2" cy="26.5" r="0.78" class="pt"/>
<circle cx="52.2" cy="74.8" r="0.78" class="pt"/>
<circle cx="52.2" cy="76" r="0.78" class="pt"/>
<circle cx="52.2" cy="77.2" r="0.78" class="pt"/>
<circle cx="52.2" cy="78.5" r="0.78" class="pt"/>
<circle cx="52.2" cy="81.7" r="0.78" class="pt"/>
<circle cx="52.2" cy="92.6" r="0.78" class="pt"/>
<line x1="52.2" y1="97.5" x2="52.2" y2="99" class="ax"/>
<line x1="100.4" y1="27.7" x2="100.4" y2="40.4" class="wk"/>
<line x1="100.4" y1="49.4" x2="100.4" y2="62" class="wk"/>
<rect x="83.8" y="40.4" width="33.2" height="9" fill="#FC1616" class="bx"/>
<line x1="83.8" y1="45" x2="117" y2="45" class="md"/>
<circle cx="100.4" cy="23.9" r="0.78" class="pt"/>
<circle cx="100.4" cy="25.2" r="0.78" class="pt"/>
<circle cx="100.4" cy="26.5" r="0.78" class="pt"/>
<circle cx="100.4" cy="63.3" r="0.78" class="pt"/>
<circle cx="100.4" cy="64.5" r="0.78" class="pt"/>
<circle cx="100.4" cy="65.7" r="0.78" class="pt"/>
<circle cx="100.4" cy="66.9" r="0.78" class="pt"/>
<circle cx="100.4" cy="68.1" r="0.78" class="pt"/>
<circle cx="100.4" cy="69.3" r="0.78" class="pt"/>
<circle cx="100.4" cy="72.4" r="0.78" class="pt"/>
<circle cx="100.4" cy="76" r="0.78" class="pt"/>
<line x1="100.4" y1="97.5" x2="100.4" y2="99" class="ax"/>
<text x="52.4" y="104.4" class="xl">Low</text>
<text x="100.6" y="104.4" class="xl">High</text>
<path d="M52.2 23.3V20.8H100.4V23.3" class="br"/>
<text x="76.5" y="27.8" class="pv">p &lt; 2.22e−16</text>
</g>
<g transform="translate(262,440)">
<text x="13.6" y="13" class="lt">O</text>
<text x="34" y="11.4" class="lg">m7Gscore</text>
<line x1="72.5" y1="5.1" x2="72.5" y2="12.9" class="wk"/>
<rect x="68.8" y="6.5" width="7.4" height="5" fill="#0C4CA6" class="bx"/>
<line x1="68.8" y1="9" x2="76.2" y2="9" class="mdk"/>
<text x="80.7" y="11.4" class="lg">Low</text>
<line x1="98.5" y1="5.1" x2="98.5" y2="12.9" class="wk"/>
<rect x="94.8" y="6.5" width="7.4" height="5" fill="#FC1616" class="bx"/>
<line x1="94.8" y1="9" x2="102.2" y2="9" class="mdk"/>
<text x="106.7" y="11.4" class="lg">High</text>
<path d="M21.5 19V98.5H126" class="ax"/>
<line x1="20" y1="35" x2="21.5" y2="35" class="ax"/>
<text x="19.1" y="37.6" class="tk">1</text>
<line x1="20" y1="52" x2="21.5" y2="52" class="ax"/>
<text x="19.1" y="54.6" class="tk">0</text>
<line x1="20" y1="69" x2="21.5" y2="69" class="ax"/>
<text x="19.1" y="71.6" class="tk">−1</text>
<line x1="20" y1="86.4" x2="21.5" y2="86.4" class="ax"/>
<text x="19.1" y="89" class="tk">−2</text>
<text transform="translate(11.3,56) rotate(-90)" class="yl">Rapamycin sensitivity(IC50)</text>
<line x1="49.9" y1="29" x2="49.9" y2="44.3" class="wk"/>
<line x1="49.9" y1="55.7" x2="49.9" y2="68.4" class="wk"/>
<rect x="33.3" y="44.3" width="33.2" height="11.4" fill="#0C4CA6" class="bx"/>
<line x1="33.3" y1="49.9" x2="66.5" y2="49.9" class="md"/>
<circle cx="49.9" cy="25.2" r="0.78" class="pt"/>
<circle cx="49.9" cy="26.5" r="0.78" class="pt"/>
<circle cx="49.9" cy="27.8" r="0.78" class="pt"/>
<circle cx="49.9" cy="73" r="0.78" class="pt"/>
<circle cx="49.9" cy="76.1" r="0.78" class="pt"/>
<circle cx="49.9" cy="80.6" r="0.78" class="pt"/>
<circle cx="49.9" cy="85" r="0.78" class="pt"/>
<line x1="49.9" y1="98.5" x2="49.9" y2="100" class="ax"/>
<line x1="97.95" y1="39.2" x2="97.95" y2="51.4" class="wk"/>
<line x1="97.95" y1="62.6" x2="97.95" y2="76.1" class="wk"/>
<rect x="81.35" y="51.4" width="33.2" height="11.2" fill="#FC1616" class="bx"/>
<line x1="81.35" y1="56.5" x2="114.55" y2="56.5" class="md"/>
<circle cx="97.95" cy="32.8" r="0.78" class="pt"/>
<circle cx="97.95" cy="34" r="0.78" class="pt"/>
<circle cx="97.95" cy="35.2" r="0.78" class="pt"/>
<circle cx="97.95" cy="36.4" r="0.78" class="pt"/>
<circle cx="97.95" cy="37.6" r="0.78" class="pt"/>
<circle cx="97.95" cy="78" r="0.78" class="pt"/>
<circle cx="97.95" cy="80.5" r="0.78" class="pt"/>
<circle cx="97.95" cy="83" r="0.78" class="pt"/>
<circle cx="97.95" cy="86.8" r="0.78" class="pt"/>
<circle cx="97.95" cy="90.5" r="0.78" class="pt"/>
<circle cx="97.95" cy="93.9" r="0.78" class="pt"/>
<line x1="97.95" y1="98.5" x2="97.95" y2="100" class="ax"/>
<text x="50.1" y="105" class="xl">Low</text>
<text x="98.15" y="105" class="xl">High</text>
<path d="M49.9 23.9V21.4H97.95V23.9" class="br"/>
<text x="74.4" y="28.3" class="pv">p &lt; 2.22e−16</text>
</g>
</svg></body></html>
